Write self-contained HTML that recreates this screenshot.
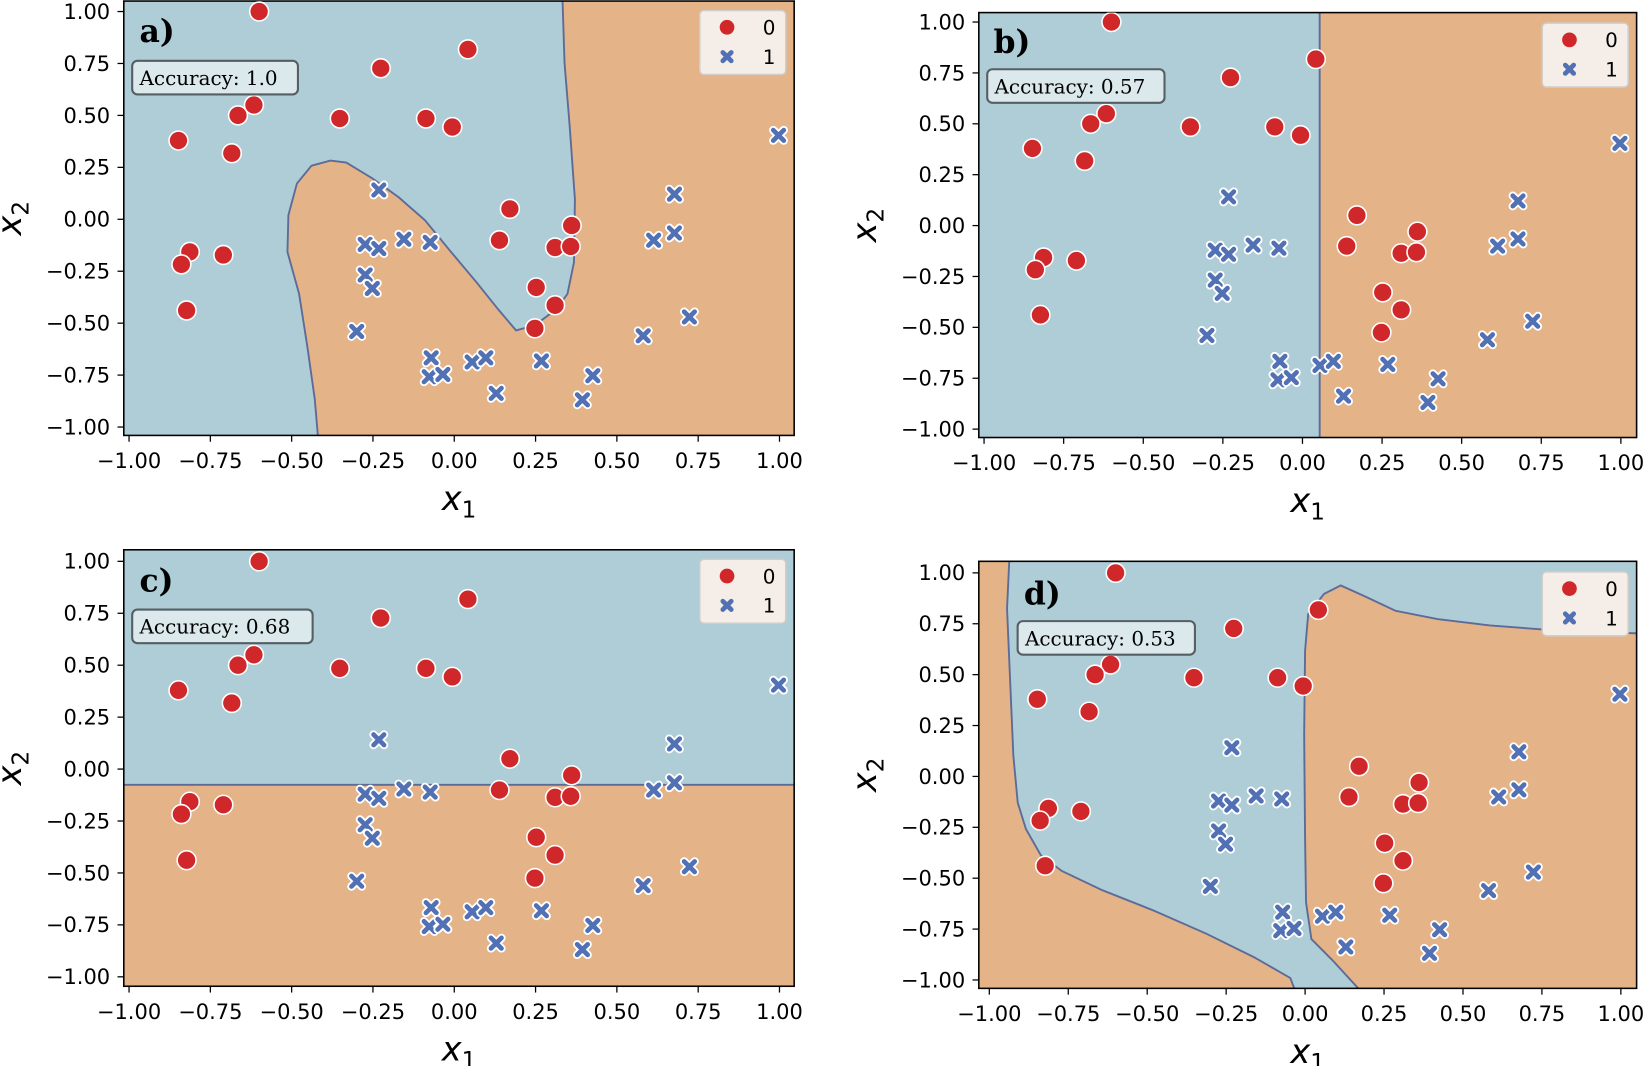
<!DOCTYPE html>
<html><head><meta charset="utf-8">
<style>
html,body{margin:0;padding:0;background:#fff;}
svg{display:block;font-family:"DejaVu Sans","Liberation Sans",sans-serif;}
</style></head>
<body>
<svg id="fig" width="1645" height="1066" viewBox="0 0 1568 1016" preserveAspectRatio="none" xmlns="http://www.w3.org/2000/svg"></svg>
<script>
// ---- data ----
const class0X = [-0.6,0.042,-0.226,-0.616,-0.665,-0.352,-0.087,-0.006,-0.848,-0.684,0.171,0.139,-0.813,-0.71,-0.839,0.31,0.358,0.361,0.252,0.31,0.248,-0.823];
const class0Y = [1.0,0.818,0.727,0.55,0.5,0.485,0.485,0.444,0.379,0.318,0.05,-0.101,-0.157,-0.172,-0.217,-0.136,-0.131,-0.03,-0.328,-0.414,-0.525,-0.439];
const class1X = [0.997,-0.232,0.677,-0.274,-0.232,-0.155,-0.074,0.613,0.677,-0.274,-0.252,0.723,-0.3,-0.071,-0.077,-0.035,0.055,0.097,0.268,0.129,0.581,0.426,0.394];
const class1Y = [0.404,0.141,0.121,-0.121,-0.141,-0.096,-0.111,-0.101,-0.066,-0.268,-0.333,-0.47,-0.54,-0.667,-0.758,-0.747,-0.687,-0.667,-0.682,-0.838,-0.561,-0.753,-0.869];
const xTicks = [-1,-0.75,-0.5,-0.25,0,0.25,0.5,0.75,1];
const yTicks = [-1,-0.75,-0.5,-0.25,0,0.25,0.5,0.75,1];
const tickLabels = ["−1.00","−0.75","−0.50","−0.25","0.00","0.25","0.50","0.75","1.00"];
const panelLetters = ["a)","b)","c)","d)"];
const accuracies = ["1.0","0.57","0.68","0.53"];
// decision region (class 1 / orange) boundaries in data units
const regionA = [[[-0.416,-1.1],[-0.429,-0.864],[-0.452,-0.611],[-0.477,-0.359],[-0.513,-0.157],[-0.51,0.02],[-0.484,0.172],[-0.439,0.258],[-0.381,0.283],[-0.332,0.273],[-0.252,0.197],[-0.171,0.106],[-0.09,-0.005],[-0.01,-0.157],[0.071,-0.308],[0.135,-0.434],[0.19,-0.535],[0.248,-0.51],[0.313,-0.434],[0.348,-0.359],[0.368,-0.207],[0.371,0.096],[0.355,0.449],[0.339,0.753],[0.332,1.1],[1.1,1.1],[1.1,-1.1]]];
const regionB = [[[0.054,-1.1],[0.054,1.1],[1.1,1.1],[1.1,-1.1]]];
const regionC = [[[-1.1,-0.076],[1.1,-0.076],[1.1,-1.1],[-1.1,-1.1]]];
const regionD = [
 [[-1.1,1.1],[-0.937,1.1],[-0.937,1.057],[-0.944,0.825],[-0.934,0.464],[-0.924,0.103],[-0.91,-0.129],[-0.884,-0.258],[-0.837,-0.387],[-0.771,-0.464],[-0.645,-0.557],[-0.478,-0.66],[-0.312,-0.773],[-0.163,-0.887],[-0.047,-0.99],[-0.02,-1.1],[-1.1,-1.1]],
 [[0.203,-1.1],[0.086,-0.902],[0.02,-0.799],[0.003,-0.619],[0.0,-0.309],[-0.003,0.206],[0.0,0.619],[0.01,0.799],[0.06,0.897],[0.113,0.938],[0.186,0.887],[0.286,0.814],[0.419,0.773],[0.585,0.742],[0.751,0.722],[0.884,0.711],[1.1,0.701],[1.1,-1.1]]
];
const regions = [regionA, regionB, regionC, regionD];

// ---- layout ----
const panels = [
 {L:118,R:757,T:1,B:415,x0:123,x1:743,y0:407,y1:11, acc:[126,58,158], leg:[667,10], lab:[133,40]},
 {L:933,R:1560,T:12,B:417,x0:938,x1:1545,y0:409,y1:21, acc:[941,66,169], leg:[1470,22], lab:[947,50]},
 {L:118,R:757,T:524,B:940,x0:123,x1:743,y0:931,y1:535, acc:[126,581,172], leg:[667,533], lab:[133,564]},
 {L:933,R:1560,T:535,B:942,x0:943,x1:1545,y0:934,y1:546, acc:[970,592,169], leg:[1470,545], lab:[976,576]}
];
const svg = document.getElementById('fig');
const NS = "http://www.w3.org/2000/svg";
const SERIF = 'font-family:"DejaVu Serif","Liberation Serif",serif';
function mk(tag, attrs, parent){const e=document.createElementNS(NS,tag);for(const k in attrs)e.setAttribute(k,attrs[k]);(parent||svg).appendChild(e);return e;}
const keys = ["a","b","c","d"];

panels.forEach((p,i)=>{
  const sx = v => p.x0 + (v+1)/2*(p.x1-p.x0);
  const sy = v => p.y0 + (v+1)/2*(p.y1-p.y0);
  const g = mk('g',{});
  
  
  const cid='clip'+i;
  const cp = mk('clipPath',{id:cid},g);
  mk('rect',{x:p.L,y:p.T,width:p.R-p.L,height:p.B-p.T},cp);
  const bg = mk('rect',{x:p.L,y:p.T,width:p.R-p.L,height:p.B-p.T,fill:'#aecdd7'},g);
  
  
  const rg = mk('g',{'clip-path':'url(#'+cid+')'},g);
  regions[i].forEach(poly=>{
    const d = poly.map((pt,j)=>(j?'L':'M')+sx(pt[0]).toFixed(1)+' '+sy(pt[1]).toFixed(1)).join(' ')+'Z';
    const pe = mk('path',{d:d,fill:'#e4b387',stroke:'#5d6b98','stroke-width':1.8},rg);
    
    
  });
  mk('rect',{x:p.L,y:p.T,width:p.R-p.L,height:p.B-p.T,fill:'none',stroke:'#000','stroke-width':1.5},g);
  xTicks.forEach((v,j)=>{
    const x=sx(v);
    mk('line',{x1:x,x2:x,y1:p.B,y2:p.B+6,stroke:'#000','stroke-width':1.2},g);
    const t=mk('text',{x:x,y:p.B+31,'text-anchor':'middle','font-size':20,fill:'#000'},g);
    t.textContent=tickLabels[j];
    
    
  });
  yTicks.forEach((v,j)=>{
    const y=sy(v);
    mk('line',{x1:p.L-6,x2:p.L,y1:y,y2:y,stroke:'#000','stroke-width':1.2},g);
    const t=mk('text',{x:p.L-13,y:y+7,'text-anchor':'end','font-size':20,fill:'#000'},g);
    t.textContent=tickLabels[j];
    
    
  });
  const xl=mk('text',{x:(p.L+p.R)/2,y:p.B+71,'text-anchor':'middle','font-size':32,'font-style':'italic',fill:'#000'},g);
  xl.innerHTML='x<tspan font-size="22" font-style="normal" dy="7">1</tspan>';
  
  
  const cy=(p.T+p.B)/2, cx=p.L-98;
  const yl=mk('text',{x:cx,y:cy,'text-anchor':'middle','font-size':32,'font-style':'italic',fill:'#000',transform:'rotate(-90 '+cx+' '+cy+')'},g);
  yl.innerHTML='x<tspan font-size="22" font-style="normal" dy="7">2</tspan>';
  
  
  const pg = mk('g',{'clip-path':'url(#'+cid+')'},g);
  class0X.forEach((v,j)=>{
    const c=mk('circle',{cx:sx(v),cy:sy(class0Y[j]),r:9,fill:'#d0282a',stroke:'#fff','stroke-width':1.5},pg);
    
    
  });
  class1X.forEach((v,j)=>{
    const x=sx(v), y=sy(class1Y[j]), s=5;
    const d='M'+(x-s)+' '+(y-s)+'L'+(x+s)+' '+(y+s)+'M'+(x-s)+' '+(y+s)+'L'+(x+s)+' '+(y-s);
    const m=mk('g',{},pg);
    
    
    mk('path',{d:d,stroke:'#fff','stroke-width':8,'stroke-linecap':'round'},m);
    mk('path',{d:d,stroke:'#5271b4','stroke-width':4.5,'stroke-linecap':'round'},m);
  });
  const lt=mk('text',{x:p.lab[0],y:p.lab[1],'font-size':30,'font-weight':'bold',style:SERIF,fill:'#000'},g);
  lt.textContent=panelLetters[i];
  
  
  const ab=mk('g',{},g);
  
  
  mk('rect',{x:p.acc[0],y:p.acc[1],width:p.acc[2],height:32,rx:5,fill:'#dbe8ec',stroke:'#555f63','stroke-width':2},ab);
  const at=mk('text',{x:p.acc[0]+7,y:p.acc[1]+23,'font-size':19,style:SERIF,fill:'#000'},ab);
  at.textContent='Accuracy: '+accuracies[i];
  const lg=mk('g',{},g);
  
  
  const lx=p.leg[0], ly=p.leg[1];
  mk('rect',{x:lx,y:ly,width:82,height:61,rx:4,fill:'#f5eee8',stroke:'#d0ccc8','stroke-width':1.5},lg);
  mk('circle',{cx:lx+26,cy:ly+16,r:7,fill:'#d0282a'},lg);
  const t0=mk('text',{x:lx+60,y:ly+23,'font-size':19,fill:'#000'},lg); t0.textContent='0';
  const X=lx+26,Y=ly+44,s=4;
  mk('path',{d:'M'+(X-s)+' '+(Y-s)+'L'+(X+s)+' '+(Y+s)+'M'+(X-s)+' '+(Y+s)+'L'+(X+s)+' '+(Y-s),stroke:'#5271b4','stroke-width':4.5,'stroke-linecap':'round'},lg);
  const t1=mk('text',{x:lx+60,y:ly+51,'font-size':19,fill:'#000'},lg); t1.textContent='1';
});
</script>
</body></html>
